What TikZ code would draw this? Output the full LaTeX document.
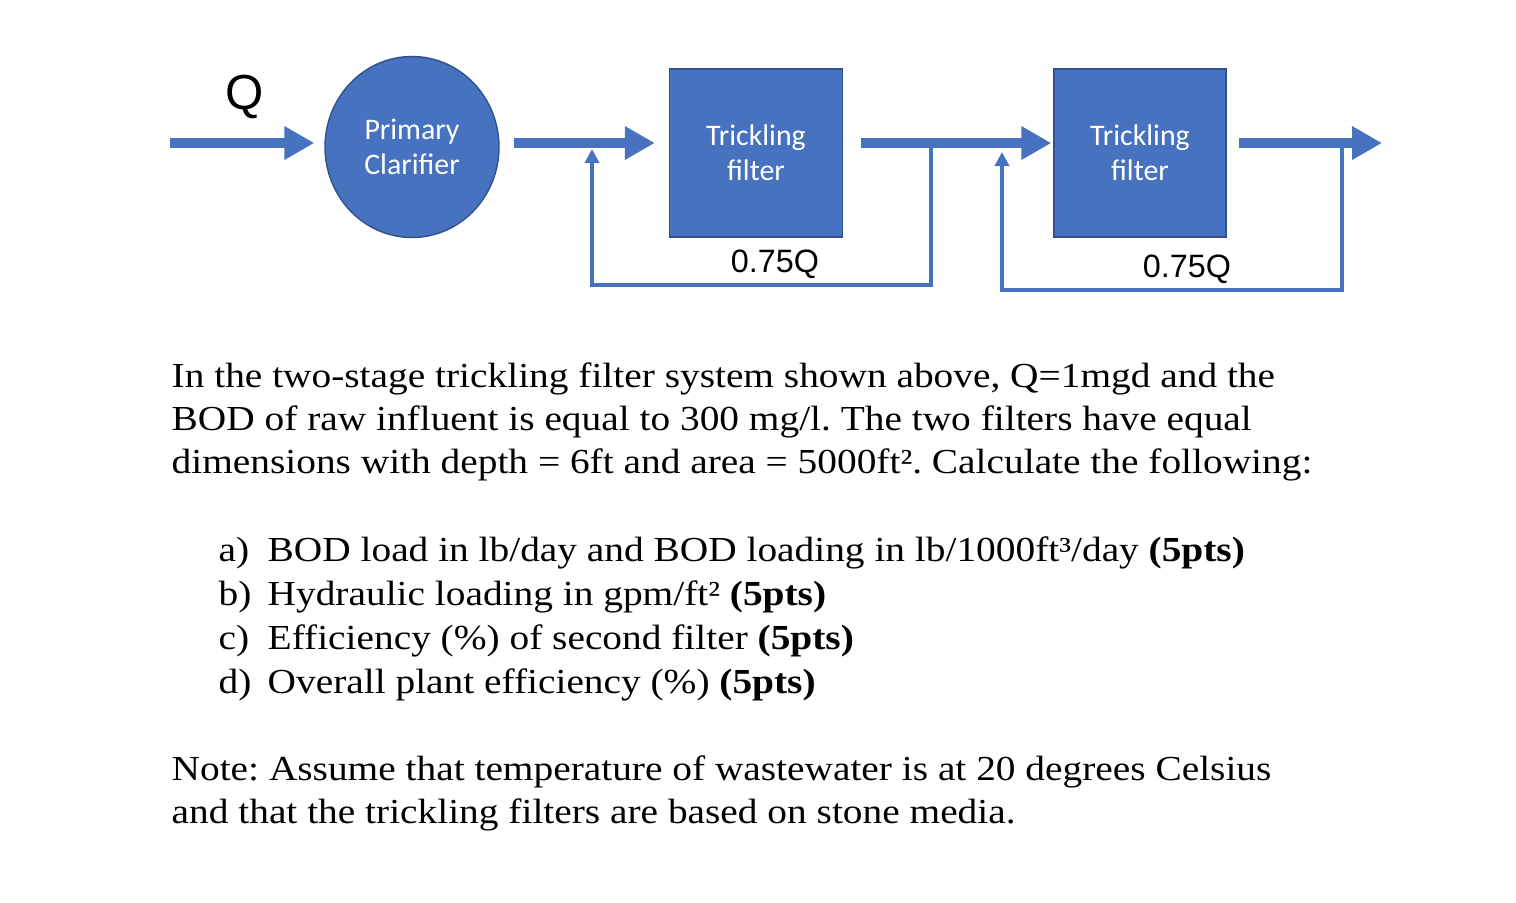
\documentclass[tikz,border=0pt]{standalone}
\usepackage{fontspec}
\setmainfont[FakeStretch=1.12]{Liberation Serif}
\newfontfamily\calfont{Carlito}
\newfontfamily\arialfont{Liberation Sans}
\usetikzlibrary{arrows.meta,shapes.geometric}
\definecolor{unitblue}{RGB}{70,114,192}
\definecolor{unitedge}{RGB}{47,82,143}
\tikzset{
  unit/.style={fill=unitblue, draw=unitedge, line width=0.4pt, text=white, align=center, inner sep=0pt,
    font=\calfont\fontsize{8.5}{10}\selectfont},
  flow/.style={draw=unitblue, line width=2.85pt, -{Triangle[length=8.5pt,width=9pt]}},
  recycle/.style={draw=unitblue, line width=1.1pt, -{Triangle[length=4pt,width=4pt]}},
  flowlabel/.style={inner sep=0pt, font=\arialfont\fontsize{9.2}{11}\selectfont},
  body/.style={anchor=base west, inner sep=0pt, font=\fontsize{10}{12}\selectfont},
}
\frenchspacing
\begin{document}
\begin{tikzpicture}[x=0.1mm, y=-0.1mm]
  \useasboundingbox (0,0) rectangle (1516,902);
  % units
  \node[unit, ellipse, minimum width=17.4mm, minimum height=18.1mm] (clarifier) at (412,147) {Primary\\Clarifier};
  \node[unit, rectangle, minimum width=17.3mm, minimum height=16.8mm] (f1) at (756,153) {Trickling\\filter};
  \node[unit, rectangle, minimum width=17.2mm, minimum height=16.8mm] (f2) at (1140,153) {Trickling\\filter};
  % free ends and split points
  \coordinate (in) at (170,143);
  \coordinate (out) at (1382,143);
  \coordinate (split1) at (931,143);
  \coordinate (join1) at (592,143);
  \coordinate (split2) at (1342,148);
  \coordinate (join2) at (1002,143);
  % recirculation
  \draw[recycle, shorten >=0.6mm] (split1) -- ++(0,142) -| (join1);
  \draw[recycle, shorten >=0.9mm] (split2) -- ++(0,142) -| (join2);
  % main flow
  \draw[flow, shorten >=1mm] (in) -- (clarifier.west |- in);
  \draw[flow, shorten <=1.4mm, shorten >=1.4mm] (clarifier.east |- in) -- (f1.west |- in);
  \draw[flow, shorten <=1.8mm, shorten >=0.2mm] (f1.east |- in) -- (f2.west |- in);
  \draw[flow, shorten <=1.2mm] (f2.east |- in) -- (out);
  % flow labels
  \node[flowlabel, font=\arialfont\fontsize{14}{16}\selectfont] (q) at (245,97) {Q};
  \node[flowlabel] (r1) at (775,264) {0.75Q};
  \node[flowlabel] (r2) at (1187,269) {0.75Q};
  % question text
  \node[body] (t1) at (171,387) {In the two-stage trickling filter system shown above, Q=1mgd and the};
  \node[body] (t2) at (171,430) {BOD of raw influent is equal to 300 mg/l. The two filters have equal};
  \node[body] (t3) at (171,473) {dimensions with depth = 6ft and area = 5000ft². Calculate the following:};
  \node[body] (la) at (218,561) {a)};
  \node[body] (ta) at (267,561) {BOD load in lb/day and BOD loading in lb/1000ft³/day \textbf{(5pts)}};
  \node[body] (lb) at (218,605) {b)};
  \node[body] (tb) at (267,605) {Hydraulic loading in gpm/ft² \textbf{(5pts)}};
  \node[body] (lc) at (218,649) {c)};
  \node[body] (tc) at (267,649) {Efficiency (\%) of second filter \textbf{(5pts)}};
  \node[body] (ld) at (218,693) {d)};
  \node[body] (td) at (267,693) {Overall plant efficiency (\%) \textbf{(5pts)}};
  \node[body] (n1) at (171,780) {Note: Assume that temperature of wastewater is at 20 degrees Celsius};
  \node[body] (n2) at (171,823) {and that the trickling filters are based on stone media.};
\end{tikzpicture}
\end{document}
